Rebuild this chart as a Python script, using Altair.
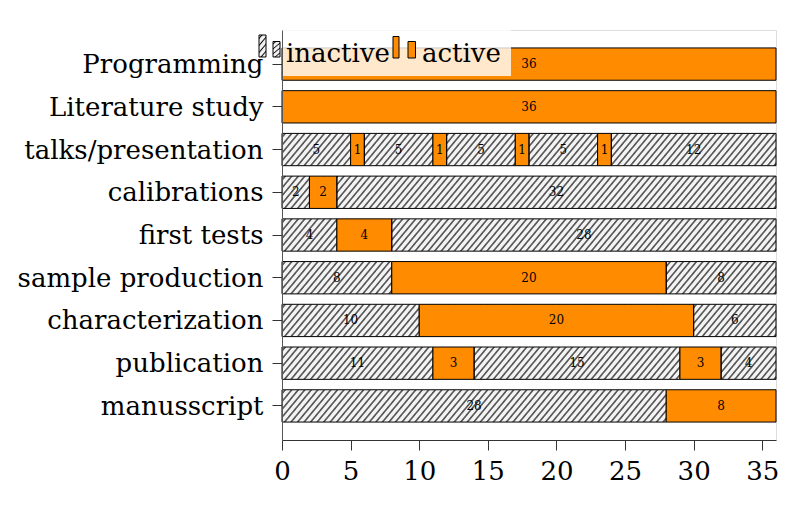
import base64
import altair as alt
import pandas as pd

# ---------------- data ----------------
categories = ["Programming", "Literature study", "talks/presentation", "calibrations",
              "first tests", "sample production", "characterization", "publication", "manusscript"]
segment_lengths = [
    [36],
    [36],
    [5, 1, 5, 1, 5, 1, 5, 1, 12],
    [2, 2, 32],
    [4, 4, 28],
    [8, 20, 8],
    [10, 20, 6],
    [11, 3, 15, 3, 4],
    [28, 8],
]
segment_states = [
    ["active"],
    ["active"],
    ["inactive", "active", "inactive", "active", "inactive", "active", "inactive", "active", "inactive"],
    ["inactive", "active", "inactive"],
    ["inactive", "active", "inactive"],
    ["inactive", "active", "inactive"],
    ["inactive", "active", "inactive"],
    ["inactive", "active", "inactive", "active", "inactive"],
    ["inactive", "active"],
]
x_ticks = [0, 5, 10, 15, 20, 25, 30, 35]
x_domain = [0, 36]
legend_labels = ["inactive", "active"]

records = []
for cat, lens, states in zip(categories, segment_lengths, segment_states):
    pos = 0
    for ln, st in zip(lens, states):
        records.append({"category": cat, "start": pos, "end": pos + ln,
                        "mid": pos + ln / 2, "length": ln, "state": st})
        pos += ln
df = pd.DataFrame(records)

# ---------------- style ----------------
FONT = "DejaVu Serif"
ORANGE = "#ff8c00"
PLOT_W, PLOT_H = 494, 410


def hatch_uri(w, h, spacing=5.0, angle=40, bg="#f3f3f3", sw=1.0):
    c = spacing / 2
    svg = (f"<svg xmlns='http://www.w3.org/2000/svg' width='{w}' height='{h}' "
           f"viewBox='0 0 {w} {h}' preserveAspectRatio='none'>"
           f"<defs><pattern id='h' width='{spacing}' height='{spacing}' patternUnits='userSpaceOnUse' "
           f"patternTransform='rotate({angle})'>"
           f"<line x1='{c}' y1='-1' x2='{c}' y2='{spacing + 1}' stroke='#000' stroke-width='{sw}'/>"
           f"</pattern></defs>"
           f"<rect width='{w}' height='{h}' fill='{bg}'/>"
           f"<rect width='{w}' height='{h}' fill='url(#h)'/></svg>")
    return "data:image/svg+xml;base64," + base64.b64encode(svg.encode()).decode()


ROW_HATCH = hatch_uri(PLOT_W, 32, spacing=5.0, sw=1.05)
SYM_HATCH = hatch_uri(7, 22, spacing=4.5)

x_enc = alt.X("start:Q", scale=alt.Scale(domain=x_domain, nice=False, zero=False),
              axis=alt.Axis(values=x_ticks, title=None, grid=False, labelFont=FONT,
                            labelFontSize=26, labelColor="black", tickSize=10,
                            tickColor="#333", domainColor="#333", labelPadding=8,
                            labelFlush=False, zindex=1))
y_enc = alt.Y("category:N", sort=categories,
              scale=alt.Scale(paddingInner=0.244, paddingOuter=0.42),
              axis=alt.Axis(title=None, labelFont=FONT, labelFontSize=26,
                            labelColor="black", tickSize=10, tickColor="#333",
                            domainColor="#555", labelPadding=9, labelOffset=1,
                            labelLimit=400, zindex=1))

base = alt.Chart(df)

hatch_rows = base.transform_aggregate(
    start="min(start)", end="max(end)", groupby=["category"]
).mark_image(aspect=False).encode(
    x=x_enc, x2="end:Q", y=y_enc, url=alt.value(ROW_HATCH)
)

bars = base.mark_bar(stroke="black", strokeWidth=1).encode(
    x=x_enc, x2="end:Q", y=y_enc,
    fill=alt.Fill("state:N", scale=alt.Scale(domain=["active", "inactive"],
                                             range=[ORANGE, "transparent"]), legend=None),
)

labels = base.mark_text(font=FONT, fontSize=12, color="black", baseline="middle").encode(
    x=alt.X("mid:Q"), y=y_enc, text=alt.Text("length:Q")
)

one = pd.DataFrame({"k": [0]})
leg_box = alt.Chart(one).mark_rect(fill="white", opacity=0.8).encode(
    x=alt.value(0), x2=alt.value(229), y=alt.value(0), y2=alt.value(46))


def hatch_symbol(x0, x1, y0, y1):
    img = alt.Chart(one).mark_image(aspect=False).encode(
        x=alt.value(x0), x2=alt.value(x1), y=alt.value(y0), y2=alt.value(y1),
        url=alt.value(SYM_HATCH))
    box = alt.Chart(one).mark_rect(fill="transparent", stroke="black", strokeWidth=1).encode(
        x=alt.value(x0), x2=alt.value(x1), y=alt.value(y0), y2=alt.value(y1))
    return [img, box]


def orange_symbol(x0, x1, y0, y1):
    return alt.Chart(one).mark_rect(fill=ORANGE, stroke="black", strokeWidth=1).encode(
        x=alt.value(x0), x2=alt.value(x1), y=alt.value(y0), y2=alt.value(y1))


leg_syms = (hatch_symbol(-23, -16, 5, 27) + hatch_symbol(-9, -2, 11.5, 27)
            + [orange_symbol(111, 117, 6.5, 28), orange_symbol(126, 133.5, 11.5, 28)])

leg_text_inactive = alt.Chart(one).mark_text(
    text=legend_labels[0], font=FONT, fontSize=26, align="left", baseline="alphabetic",
    color="black").encode(x=alt.value(4), y=alt.value(31.5))
leg_text_active = alt.Chart(one).mark_text(
    text=legend_labels[1], font=FONT, fontSize=26, align="left", baseline="alphabetic",
    color="black").encode(x=alt.value(140), y=alt.value(31.5))

chart = alt.layer(
    hatch_rows, bars, labels, leg_box, *leg_syms, leg_text_inactive, leg_text_active
).properties(
    width=PLOT_W, height=PLOT_H,
    autosize=alt.AutoSizeParams(type="none"),
    padding={"left": 274, "top": 22, "right": 8, "bottom": 60},
).configure_view(
    stroke="#777", strokeWidth=1.2
).configure(background="white")

chart.save("out.html", embed_options={"renderer": "svg", "actions": False})
